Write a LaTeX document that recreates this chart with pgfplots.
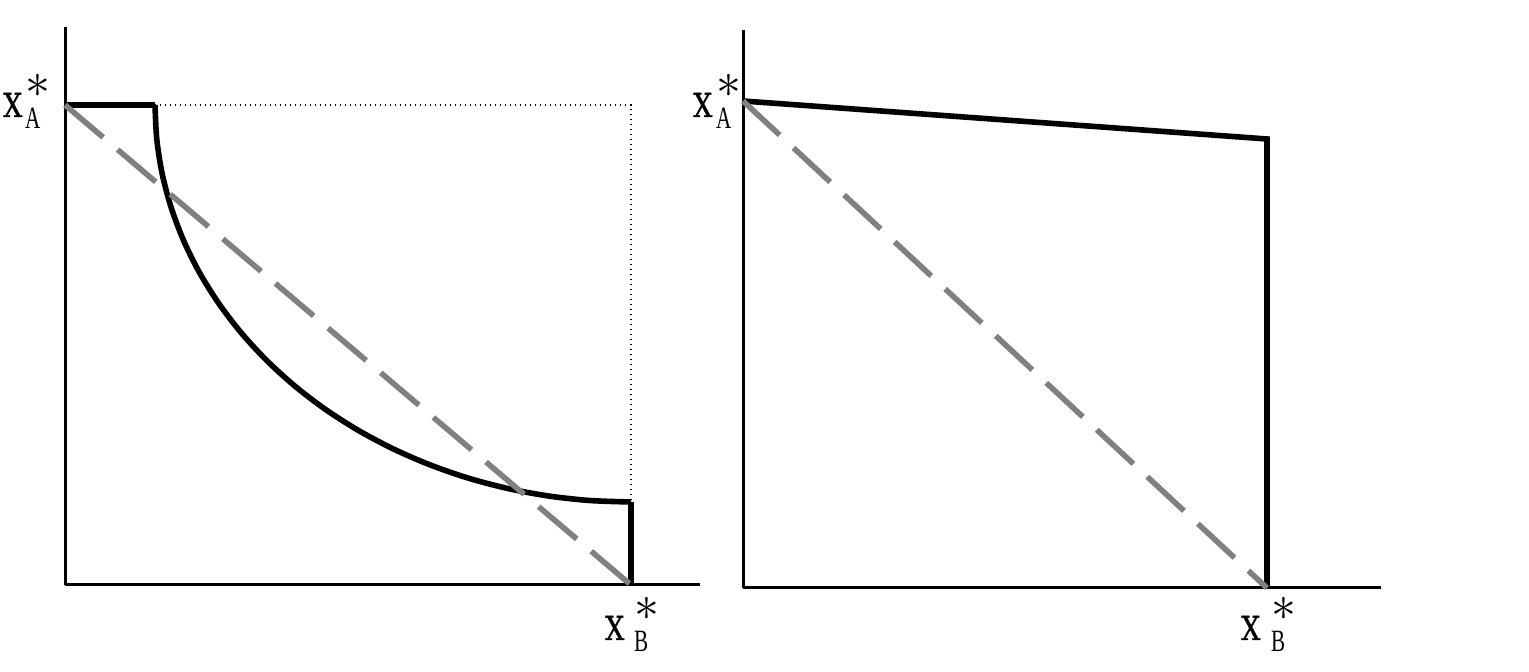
\documentclass[border=0pt]{standalone}
\usepackage{pgfplots}
\pgfplotsset{compat=1.18}
\usepackage{fontspec}
\newfontfamily\xf[FakeStretch=0.8, FakeBold=1.2]{DejaVu Serif}
\newfontfamily\subf[FakeStretch=0.68]{Liberation Serif}
\newcommand{\lab}[2]{\mbox{{\xf\fontsize{16.5}{16.5}\selectfont X}\hspace*{#2}\rlap{\hspace*{0.3pt}\raisebox{9.5pt}{\fontsize{24}{24}\selectfont$\ast$}}\raisebox{-6pt}{\subf\fontsize{15.5}{15.5}\selectfont #1}}}
\begin{document}
\begin{tikzpicture}
\path[use as bounding box] (0,0) rectangle (764.5pt,336pt);
\pgfplotsset{myax/.style={scale only axis, axis lines=left, axis line style={line width=1.5pt,-}, ticks=none, enlargelimits=false, clip=false, anchor=south west}}
\begin{axis}[myax, at={(32.5pt,43.5pt)}, width=317.5pt, height=279pt, xmin=0,xmax=635,ymin=0,ymax=558]
\addplot[black, line width=0.6pt, dash pattern=on 0.7pt off 1.8pt] coordinates {(90,480) (566,480) (566,83)};
\addplot[black, line width=3pt] coordinates {(0,480) (90,480)};
\addplot[black, line width=2.8pt, smooth] coordinates {
(90,480) (91.8,445.4) (97.2,411.1) (106.2,377.3) (118.7,344.2) (134.6,312.2)
(153.8,281.5) (176.1,252.3) (201.4,224.8) (229.4,199.3) (260.0,175.9) (293.0,154.8)
(328.0,136.2) (364.8,120.2) (403.2,106.9) (442.8,96.5) (483.4,89.0) (524.5,84.5) (566,83)};
\addplot[black, line width=3pt] coordinates {(566,83) (566,0)};
\addplot[gray, line width=2.8pt, dash pattern=on 25pt off 9.5pt] coordinates {(0,480) (566,0)};
\node[anchor=base west, inner sep=0] at (axis cs:-62,468) {\lab{A}{1.5pt}};
\node[anchor=base west, inner sep=0] at (axis cs:540,-55) {\lab{B}{5pt}};
\end{axis}
\begin{axis}[myax, at={(371.5pt,42pt)}, width=319pt, height=279pt, xmin=0,xmax=638,ymin=0,ymax=558]
\addplot[black, line width=2.8pt, line join=miter] coordinates {(0,487) (524,449) (524,0)};
\addplot[gray, line width=2.8pt, dash pattern=on 25pt off 9.5pt] coordinates {(0,487) (524,0)};
\node[anchor=base west, inner sep=0] at (axis cs:-50,471) {\lab{A}{2pt}};
\node[anchor=base west, inner sep=0] at (axis cs:498,-52) {\lab{B}{5.5pt}};
\end{axis}
\end{tikzpicture}
\end{document}
